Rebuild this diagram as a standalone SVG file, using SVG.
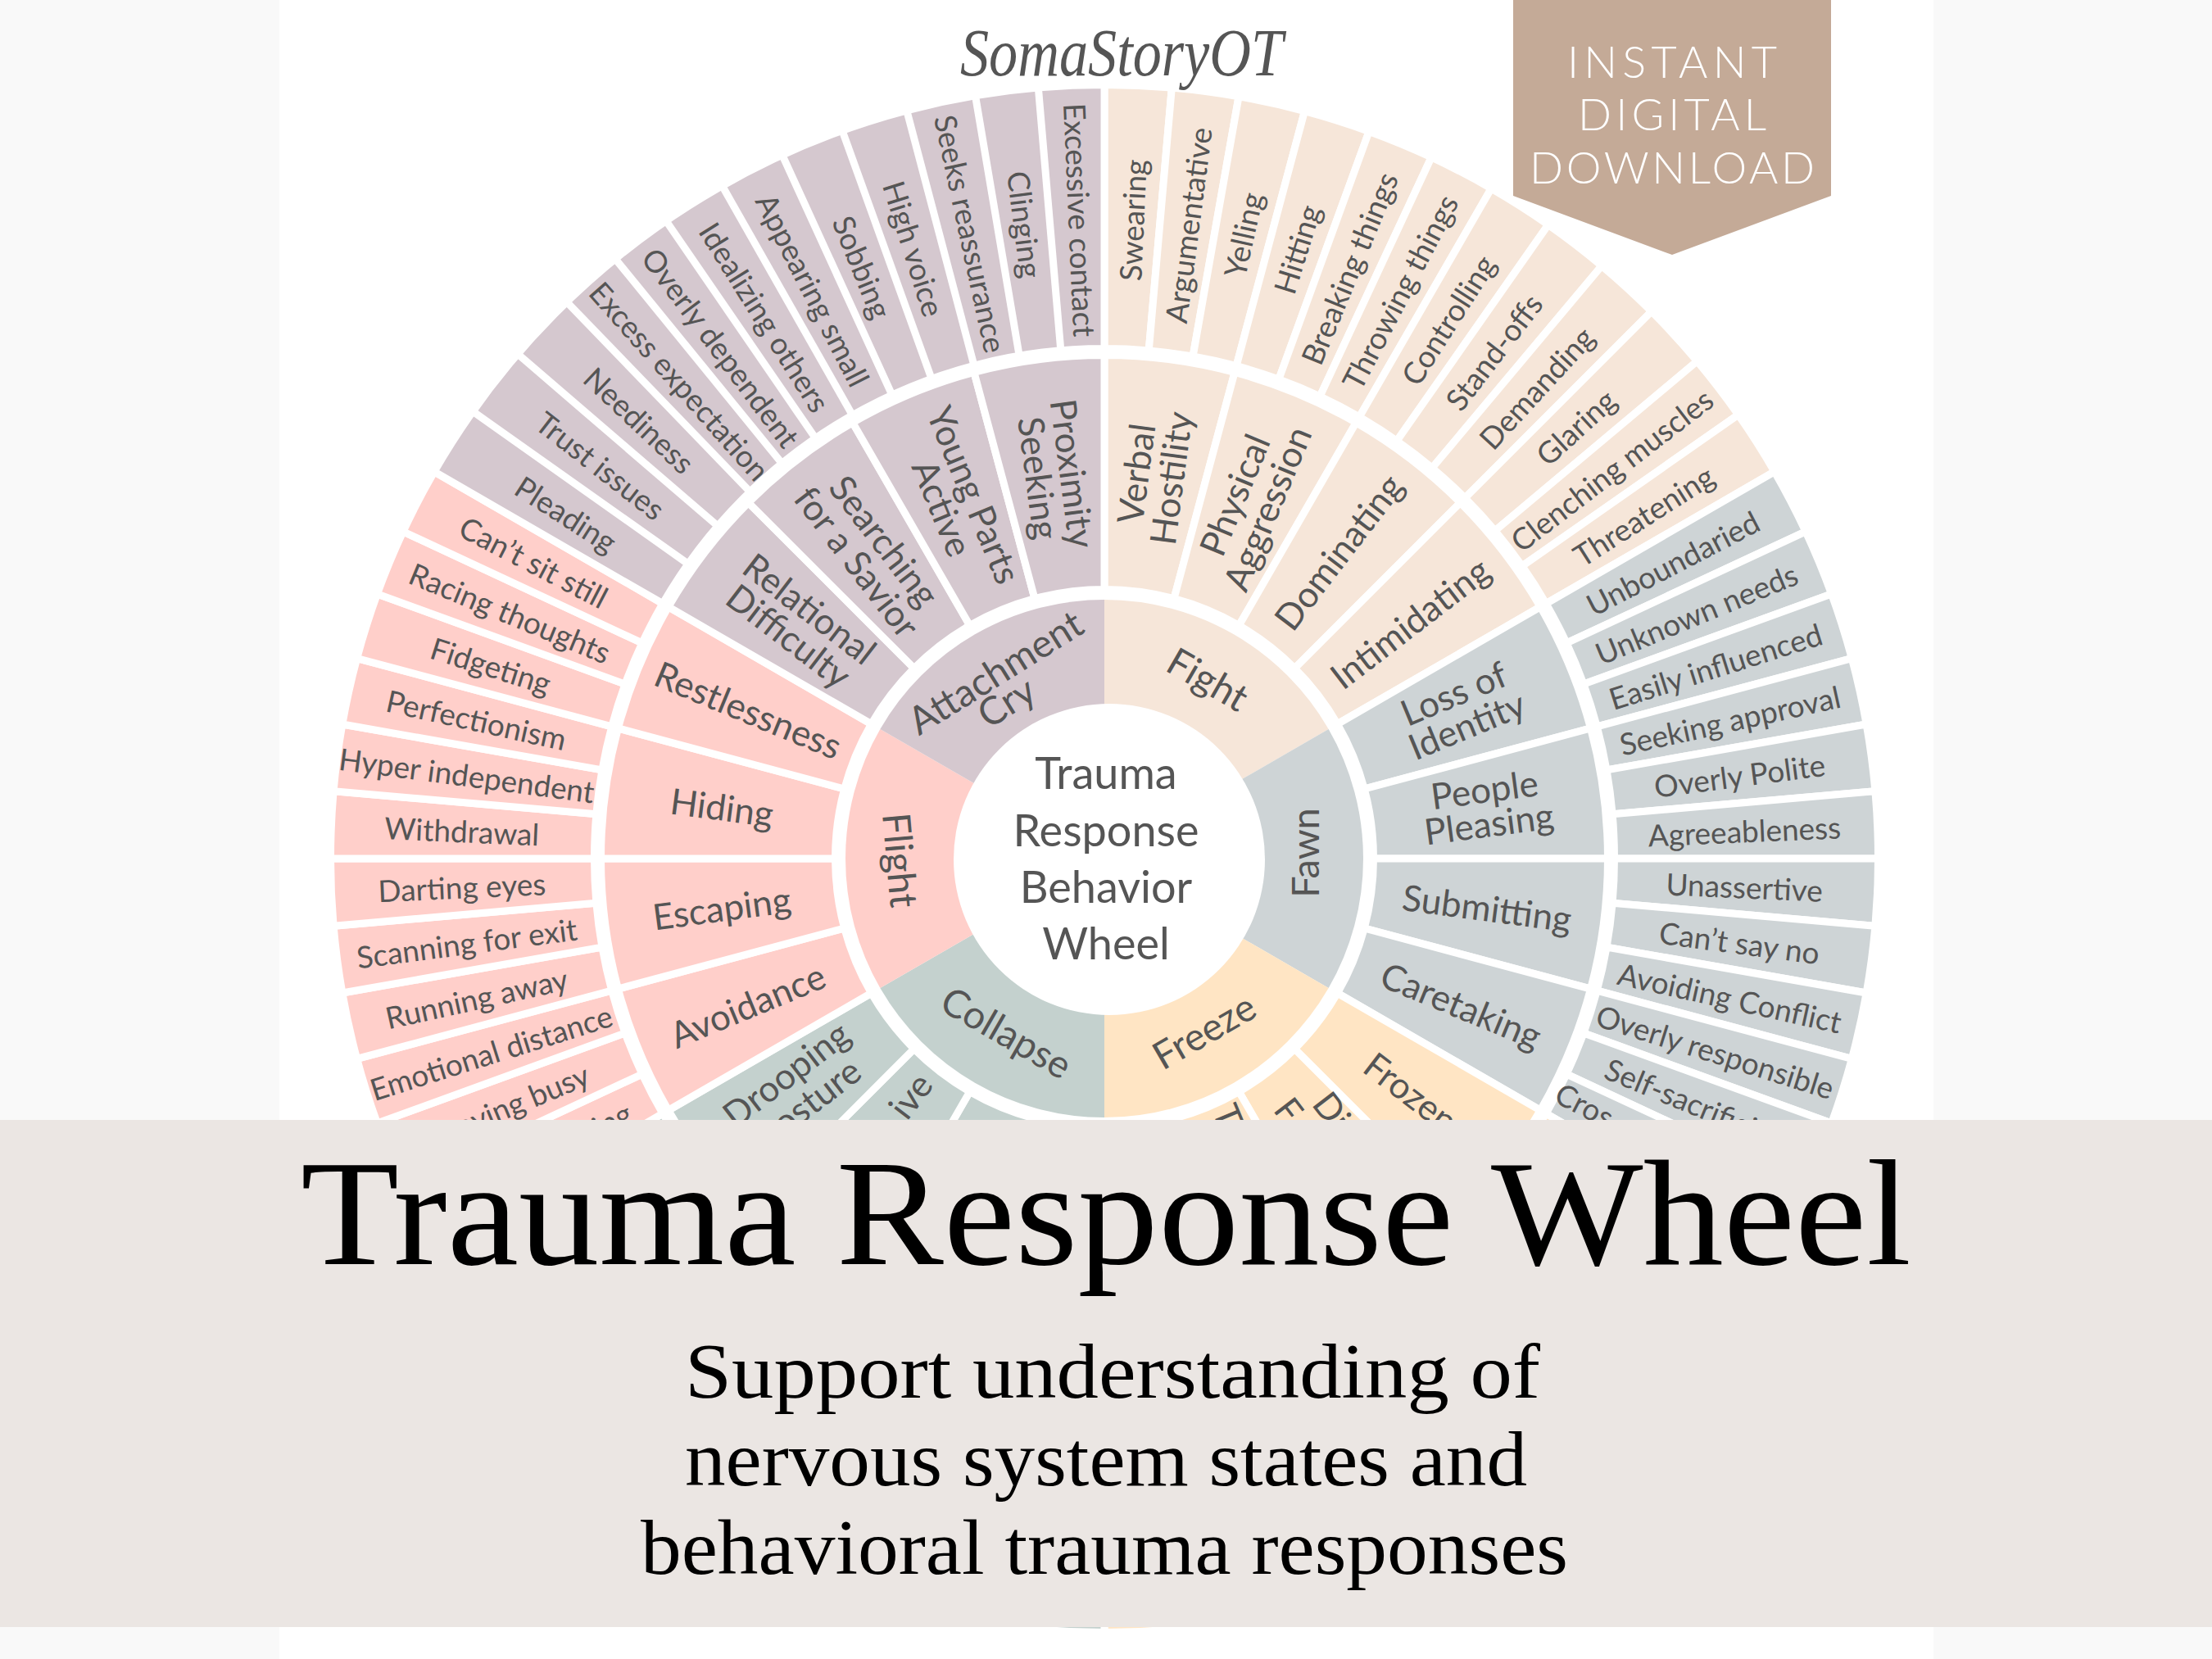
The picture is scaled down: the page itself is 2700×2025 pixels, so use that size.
<svg xmlns="http://www.w3.org/2000/svg" width="2700" height="2025" viewBox="0 0 2700 2025">
<style>
.w{stroke:#fff;stroke-width:9}
.att{fill:#d5c8cf}.fig{fill:#f6e6d9}.faw{fill:#ced4d6}.fre{fill:#ffe5c4}.col{fill:#c4d1ce}.fli{fill:#ffcfca}
text{font-family:"Lato","Noto Sans",sans-serif;fill:#555;text-anchor:middle}
.t3{font-size:37px;dominant-baseline:central}
.t2{font-size:44px}
.t1{font-size:47px}
.c{font-size:54px}
.b{font-size:54px;font-weight:300;fill:#fff}
.h{font-family:"Liberation Serif",serif;fill:#000}
</style>
<defs>
<path id="w3" d="M0-944.5A944.5 944.5 0 0 1 82.32-940.9L54.26-620.13A622.5 622.5 0 0 0 0-622.5Z"/>
<path id="w2" d="M0-614.5A614.5 614.5 0 0 1 159.04-593.56L85.02-317.31A328.5 328.5 0 0 0 0-328.5Z"/>
<path id="w1" d="M0-316A316 316 0 0 1 273.66-158L0 0Z"/>
<path id="arc3" d="M0-944.5A944.5 944.5 0 0 1 818-472.25L539.1-311.25A622.5 622.5 0 0 0 0-622.5Z"/>
<path id="sp" d="M0-620V-947" fill="none" stroke="#fff" stroke-width="9"/>
</defs>
<rect width="2700" height="2025" fill="#f9f9f9"/>
<rect x="341" width="2019" height="2025" fill="#fff"/>
<g id="wheel" transform="translate(1348 1048)">
<g id="fight" class="fig">
<use href="#w1"/>
<use href="#w2" class="w"/><use href="#w2" class="w" transform="rotate(15)"/><use href="#w2" class="w" transform="rotate(30)"/><use href="#w2" class="w" transform="rotate(45)"/>
<use href="#w3" class="w"/><use href="#w3" class="w" transform="rotate(5)"/><use href="#w3" class="w" transform="rotate(10)"/><use href="#w3" class="w" transform="rotate(15)"/><use href="#w3" class="w" transform="rotate(20)"/><use href="#w3" class="w" transform="rotate(25)"/><use href="#w3" class="w" transform="rotate(30)"/><use href="#w3" class="w" transform="rotate(35)"/><use href="#w3" class="w" transform="rotate(40)"/><use href="#w3" class="w" transform="rotate(45)"/><use href="#w3" class="w" transform="rotate(50)"/><use href="#w3" class="w" transform="rotate(55)"/>
<text class="t1" transform="rotate(30) translate(0 -236)">Fight</text>
<text class="t2" transform="rotate(-82.5) translate(471)"><tspan x="0" y="-7">Verbal</tspan><tspan x="0" y="36">Hostility</tspan></text>
<text class="t2" transform="rotate(-67.5) translate(471)"><tspan x="0" y="-7">Physical</tspan><tspan x="0" y="36">Aggression</tspan></text>
<text class="t2" transform="rotate(-52.5) translate(471)" y="15">Dominating</text>
<text class="t2" transform="rotate(-37.5) translate(471)" y="15">Intimidating</text>
<text class="t3" transform="rotate(-87.5) translate(780)">Swearing</text>
<text class="t3" transform="rotate(-82.5) translate(780)">Argumentative</text>
<text class="t3" transform="rotate(-77.5) translate(780)">Yelling</text>
<text class="t3" transform="rotate(-72.5) translate(780)">Hitting</text>
<text class="t3" transform="rotate(-67.5) translate(780)">Breaking things</text>
<text class="t3" transform="rotate(-62.5) translate(780)">Throwing things</text>
<text class="t3" transform="rotate(-57.5) translate(780)">Controlling</text>
<text class="t3" transform="rotate(-52.5) translate(780)">Stand-offs</text>
<text class="t3" transform="rotate(-47.5) translate(780)">Demanding</text>
<text class="t3" transform="rotate(-42.5) translate(780)">Glaring</text>
<text class="t3" transform="rotate(-37.5) translate(780)">Clenching muscles</text>
<text class="t3" transform="rotate(-32.5) translate(780)">Threatening</text>
</g>
<g id="fawn" class="faw">
<use href="#w1" transform="rotate(60)"/>
<use href="#w2" class="w" transform="rotate(60)"/><use href="#w2" class="w" transform="rotate(75)"/><use href="#w2" class="w" transform="rotate(90)"/><use href="#w2" class="w" transform="rotate(105)"/>
<use href="#w3" class="w" transform="rotate(60)"/><use href="#w3" class="w" transform="rotate(65)"/><use href="#w3" class="w" transform="rotate(70)"/><use href="#w3" class="w" transform="rotate(75)"/><use href="#w3" class="w" transform="rotate(80)"/><use href="#w3" class="w" transform="rotate(85)"/><use href="#w3" class="w" transform="rotate(90)"/><use href="#w3" class="w" transform="rotate(95)"/><use href="#w3" class="w" transform="rotate(100)"/><use href="#w3" class="w" transform="rotate(105)"/><use href="#w3" class="w" transform="rotate(110)"/><use href="#w3" class="w" transform="rotate(115)"/>
<text class="t1" transform="rotate(-90) translate(7 262)">Fawn</text>
<text class="t2" transform="rotate(-22.5) translate(471)"><tspan x="0" y="-7">Loss of</tspan><tspan x="0" y="35">Identity</tspan></text>
<text class="t2" transform="rotate(-7.5) translate(471)"><tspan x="0" y="-7">People</tspan><tspan x="0" y="35">Pleasing</tspan></text>
<text class="t2" transform="rotate(7.5) translate(471)" y="15">Submitting</text>
<text class="t2" transform="rotate(22.5) translate(471)" y="15">Caretaking</text>
<text class="t3" transform="rotate(-27.5) translate(782)">Unboundaried</text>
<text class="t3" transform="rotate(-22.5) translate(782)">Unknown needs</text>
<text class="t3" transform="rotate(-17.5) translate(782)">Easily influenced</text>
<text class="t3" transform="rotate(-12.5) translate(782)">Seeking approval</text>
<text class="t3" transform="rotate(-7.5) translate(782)">Overly Polite</text>
<text class="t3" transform="rotate(-2.5) translate(782)">Agreeableness</text>
<text class="t3" transform="rotate(2.5) translate(782)">Unassertive</text>
<text class="t3" transform="rotate(7.5) translate(782)">Can’t say no</text>
<text class="t3" transform="rotate(12.5) translate(782)">Avoiding Conflict</text>
<text class="t3" transform="rotate(17.5) translate(782)">Overly responsible</text>
<text class="t3" transform="rotate(22.5) translate(782)">Self-sacrificing</text>
<text class="t3" transform="translate(547 296) rotate(27.5)" style="text-anchor:start;dominant-baseline:auto">Cros</text>
</g>
<g id="freeze" class="fre">
<use href="#w1" transform="rotate(120)"/>
<use href="#w2" class="w" transform="rotate(120)"/><use href="#w2" class="w" transform="rotate(135)"/><use href="#w2" class="w" transform="rotate(150)"/><use href="#w2" class="w" transform="rotate(165)"/>
<use href="#w3" class="w" transform="rotate(120)"/><use href="#w3" class="w" transform="rotate(125)"/><use href="#w3" class="w" transform="rotate(130)"/><use href="#w3" class="w" transform="rotate(135)"/><use href="#w3" class="w" transform="rotate(140)"/><use href="#w3" class="w" transform="rotate(145)"/><use href="#w3" class="w" transform="rotate(150)"/><use href="#w3" class="w" transform="rotate(155)"/><use href="#w3" class="w" transform="rotate(160)"/><use href="#w3" class="w" transform="rotate(165)"/><use href="#w3" class="w" transform="rotate(170)"/><use href="#w3" class="w" transform="rotate(175)"/>
<text class="t1" transform="rotate(-30) translate(0 260)">Freeze</text>
<text class="t2" transform="rotate(37.5) translate(471)" y="15">Frozen</text>
<text class="t2" transform="translate(252 300) rotate(52.5)" style="text-anchor:start">Dis</text>
<text class="t2" transform="translate(205 307) rotate(52.5)" style="text-anchor:start">F</text>
<text class="t2" transform="translate(131 308) rotate(67.5)" style="text-anchor:start">T</text>
</g>
<g id="collapse" class="col">
<use href="#w1" transform="rotate(180)"/>
<use href="#w2" class="w" transform="rotate(180)"/><use href="#w2" class="w" transform="rotate(195)"/><use href="#w2" class="w" transform="rotate(210)"/><use href="#w2" class="w" transform="rotate(225)"/>
<use href="#w3" class="w" transform="rotate(180)"/><use href="#w3" class="w" transform="rotate(185)"/><use href="#w3" class="w" transform="rotate(190)"/><use href="#w3" class="w" transform="rotate(195)"/><use href="#w3" class="w" transform="rotate(200)"/><use href="#w3" class="w" transform="rotate(205)"/><use href="#w3" class="w" transform="rotate(210)"/><use href="#w3" class="w" transform="rotate(215)"/><use href="#w3" class="w" transform="rotate(220)"/><use href="#w3" class="w" transform="rotate(225)"/><use href="#w3" class="w" transform="rotate(230)"/><use href="#w3" class="w" transform="rotate(235)"/>
<text class="t1" transform="translate(3 0) rotate(30) translate(0 262)">Collapse</text>
<text class="t2" transform="translate(-388 264) rotate(-37.5)" y="15">Drooping</text>
<text class="t2" transform="translate(-361 299) rotate(-37.5)" y="15">Posture</text>
<text class="t2" transform="translate(-207 277) rotate(-52.5)" style="text-anchor:end">ive</text>
</g>
<g id="flight" class="fli">
<use href="#w1" transform="rotate(240)"/>
<use href="#w2" class="w" transform="rotate(240)"/><use href="#w2" class="w" transform="rotate(255)"/><use href="#w2" class="w" transform="rotate(270)"/><use href="#w2" class="w" transform="rotate(285)"/>
<use href="#w3" class="w" transform="rotate(240)"/><use href="#w3" class="w" transform="rotate(245)"/><use href="#w3" class="w" transform="rotate(250)"/><use href="#w3" class="w" transform="rotate(255)"/><use href="#w3" class="w" transform="rotate(260)"/><use href="#w3" class="w" transform="rotate(265)"/><use href="#w3" class="w" transform="rotate(270)"/><use href="#w3" class="w" transform="rotate(275)"/><use href="#w3" class="w" transform="rotate(280)"/><use href="#w3" class="w" transform="rotate(285)"/><use href="#w3" class="w" transform="rotate(290)"/><use href="#w3" class="w" transform="rotate(295)"/>
<text class="t1" transform="translate(-251 2) rotate(85)" y="15">Flight</text>
<text class="t2" transform="rotate(22.5) translate(-471)" y="15">Restlessness</text>
<text class="t2" transform="rotate(7.5) translate(-471)" y="15">Hiding</text>
<text class="t2" transform="rotate(-7.5) translate(-471)" y="15">Escaping</text>
<text class="t2" transform="rotate(-22.5) translate(-471)" y="15">Avoidance</text>
<text class="t3" transform="rotate(27.5) translate(-785)">Can’t sit still</text>
<text class="t3" transform="rotate(22.5) translate(-785)">Racing thoughts</text>
<text class="t3" transform="rotate(17.5) translate(-785)">Fidgeting</text>
<text class="t3" transform="rotate(12.5) translate(-785)">Perfectionism</text>
<text class="t3" transform="rotate(7.5) translate(-785)">Hyper independent</text>
<text class="t3" transform="rotate(2.5) translate(-785)">Withdrawal</text>
<text class="t3" transform="rotate(-2.5) translate(-785)">Darting eyes</text>
<text class="t3" transform="rotate(-7.5) translate(-785)">Scanning for exit</text>
<text class="t3" transform="rotate(-12.5) translate(-785)">Running away</text>
<text class="t3" transform="rotate(-17.5) translate(-785)">Emotional distance</text>
<text class="t3" transform="rotate(-22.5) translate(-785)">Staying busy</text>
<text class="t3" transform="translate(-573 320) rotate(-27.5)" style="text-anchor:end;dominant-baseline:auto">ing</text>
</g>
<g id="attachment" class="att">
<use href="#w1" transform="rotate(300)"/>
<use href="#w2" class="w" transform="rotate(300)"/><use href="#w2" class="w" transform="rotate(315)"/><use href="#w2" class="w" transform="rotate(330)"/><use href="#w2" class="w" transform="rotate(345)"/>
<use href="#arc3" class="w" transform="rotate(300)"/>
<use href="#sp" transform="rotate(-4.9)"/><use href="#sp" transform="rotate(-9.6)"/><use href="#sp" transform="rotate(-14.8)"/><use href="#sp" transform="rotate(-19.8)"/><use href="#sp" transform="rotate(-24.6)"/><use href="#sp" transform="rotate(-29.6)"/><use href="#sp" transform="rotate(-34.5)"/><use href="#sp" transform="rotate(-39.2)"/><use href="#sp" transform="rotate(-44)"/><use href="#sp" transform="rotate(-49.3)"/><use href="#sp" transform="rotate(-54.7)"/>
<text class="t1" transform="translate(-132 -226) rotate(-32)" y="15"><tspan x="0">Attachment</tspan><tspan x="-8" dy="38">Cry</tspan></text>
<text class="t2" transform="rotate(37.5) translate(-471)"><tspan x="0" y="-7">Relational</tspan><tspan x="0" y="35">Difficulty</tspan></text>
<text class="t2" transform="rotate(52.5) translate(-471)"><tspan x="0" y="-7">Searching</tspan><tspan x="0" y="35">for a Savior</tspan></text>
<text class="t2" transform="rotate(67.5) translate(-471)"><tspan x="0" y="-7">Young Parts</tspan><tspan x="0" y="35">Active</tspan></text>
<text class="t2" transform="rotate(82.5) translate(-471)"><tspan x="0" y="-7">Proximity</tspan><tspan x="0" y="35">Seeking</tspan></text>
<text class="t3" y="-4" transform="rotate(87.55) translate(-780)">Excessive contact</text>
<text class="t3" y="-2" transform="rotate(82.75) translate(-780)">Clinging</text>
<text class="t3" y="-2" transform="rotate(77.8) translate(-780)">Seeks reassurance</text>
<text class="t3" transform="rotate(72.7) translate(-780)">High voice</text>
<text class="t3" transform="rotate(67.8) translate(-780)">Sobbing</text>
<text class="t3" transform="rotate(62.9) translate(-780)">Appearing small</text>
<text class="t3" transform="rotate(57.95) translate(-780)">Idealizing others</text>
<text class="t3" transform="rotate(53.15) translate(-780)">Overly dependent</text>
<text class="t3" transform="rotate(48.4) translate(-780)">Excess expectation</text>
<text class="t3" transform="rotate(43.35) translate(-780)">Neediness</text>
<text class="t3" transform="rotate(38) translate(-780)">Trust issues</text>
<text class="t3" transform="rotate(32.65) translate(-780)">Pleading</text>
</g>
</g>
<g id="hub">
<circle cx="1354" cy="1049" r="190" fill="#fff"/>
<text class="c" x="1350" y="963">Trauma</text>
<text class="c" x="1350" y="1033">Response</text>
<text class="c" x="1350" y="1102">Behavior</text>
<text class="c" x="1350" y="1171">Wheel</text>
</g>
<text id="signature" x="1369" y="92" font-size="82" font-style="italic" textLength="394" lengthAdjust="spacingAndGlyphs" style="font-family:'Liberation Serif',serif">SomaStoryOT</text>
<g id="badge">
<polygon points="1847,0 2235,0 2235,239 2041,311 1847,239" fill="#c4aa97"/>
<text class="b" x="2041" y="95" textLength="256">INSTANT</text>
<text class="b" x="2041" y="159" textLength="230">DIGITAL</text>
<text class="b" x="2041" y="224" textLength="348">DOWNLOAD</text>
</g>
<g id="banner">
<rect y="1367" width="2700" height="619" fill="#ebe6e3"/>
<text class="h" x="1350" y="1543" font-size="184" textLength="1966" lengthAdjust="spacingAndGlyphs">Trauma Response Wheel</text>
<text class="h" x="1358" y="1706" font-size="95" textLength="1044" lengthAdjust="spacingAndGlyphs">Support understanding of</text>
<text class="h" x="1350" y="1813" font-size="95" textLength="1028" lengthAdjust="spacingAndGlyphs">nervous system states and</text>
<text class="h" x="1348" y="1921" font-size="95" textLength="1132" lengthAdjust="spacingAndGlyphs">behavioral trauma responses</text>
</g>
</svg>
